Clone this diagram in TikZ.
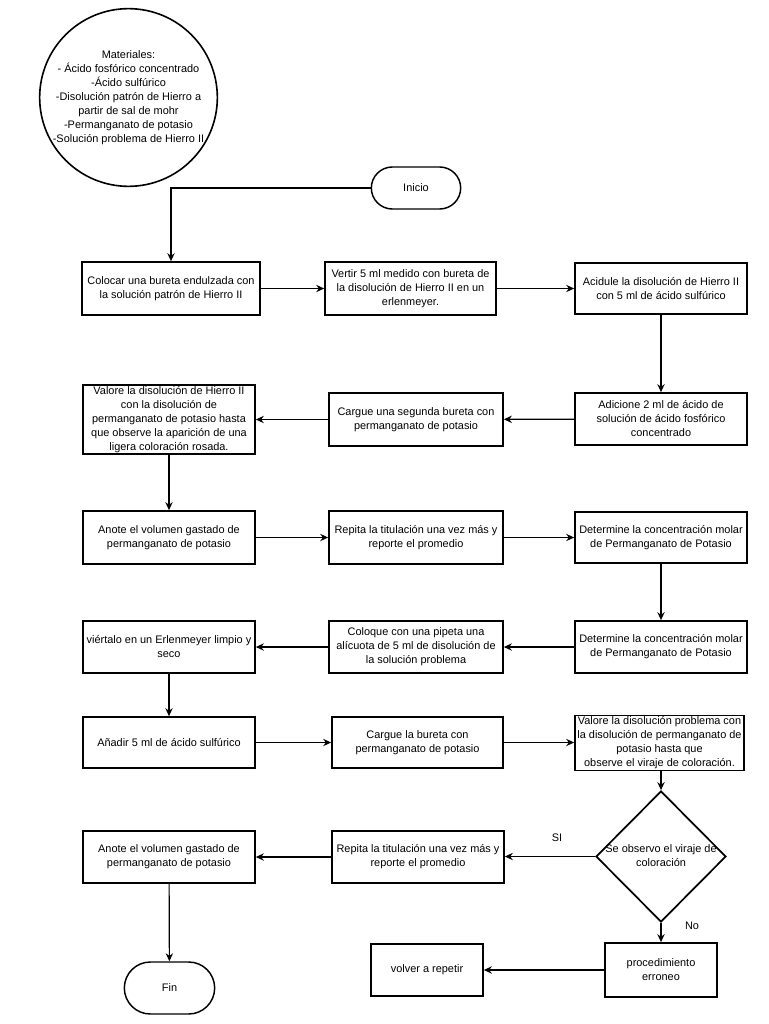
\documentclass[tikz,border=0pt]{standalone}
\usepackage{fontspec}
\setmainfont{Liberation Sans}
\usetikzlibrary{shapes.geometric,shapes.misc,arrows.meta}
\begin{document}
\begin{tikzpicture}[x=0.75pt,y=-0.75pt,
  txt/.style={font=\fontsize{8.2}{10.5}\selectfont, align=center},
  box/.style={txt, draw, line width=1.3pt, inner sep=1pt, minimum width=129pt, minimum height=39pt},
  term/.style={txt, draw, line width=1.1pt, rounded rectangle, inner sep=1pt},
  arr/.style={line width=0.9pt, -{Stealth[length=6pt,width=5.5pt,inset=2pt]}}]
\useasboundingbox (0,0) rectangle (768,1024);
\fill[white] (0,0) rectangle (768,1024);

\node[txt, draw, circle, line width=1.2pt, minimum size=130pt, inner sep=0pt] (mat) at (128.5,97.5)
 {Materiales:\\- Ácido fosfórico concentrado\\-Ácido sulfúrico\\-Disolución patrón de Hierro a\\partir de sal de mohr\\-Permanganato de potasio\\-Solución problema de Hierro II};

\node[term, minimum width=69pt, minimum height=31.5pt] (ini) at (416,188) {Inicio};

\node[box, minimum width=133.5pt, minimum height=39.75pt] (b1) at (171,288.5) {Colocar una bureta endulzada con\\la solución patrón de Hierro II};
\node[box, minimum width=128.25pt, minimum height=39.75pt] (b2) at (410.5,288.5) {Vertir 5 ml medido con bureta de\\la disolución de Hierro II en un\\erlenmeyer.};
\node[box, minimum height=38.25pt] (b3) at (661,288.5) {Acidule la disolución de Hierro II\\con 5 ml de ácido sulfúrico};
\node[box] (b4) at (661,419) {Adicione 2 ml de ácido de\\solución de ácido fosfórico\\concentrado};
\node[box, minimum width=130.5pt, minimum height=39.75pt] (b5) at (416,419.5) {Cargue una segunda bureta con\\permanganato de potasio};
\node[box, minimum height=51.75pt] (b6) at (169,419.5) {Valore la disolución de Hierro II\\con la disolución de\\permanganato de potasio hasta\\que observe la aparición de una\\ligera coloración rosada.};
\node[box, minimum height=39.75pt] (b7) at (169,537.5) {Anote el volumen gastado de\\permanganato de potasio};
\node[box, minimum width=130.5pt, minimum height=39.75pt] (b8) at (416,537.5) {Repita la titulación una vez más y\\reporte el promedio};
\node[box, minimum height=38.25pt] (b9) at (661,537.5) {Determine la concentración molar\\de Permanganato de Potasio};
\node[box] (b10) at (661,647) {Determine la concentración molar\\de Permanganato de Potasio};
\node[box, minimum width=130.5pt] (b11) at (416,647) {Coloque con una pipeta una\\alícuota de 5 ml de disolución de\\la solución problema};
\node[box] (b12) at (169,647) {viértalo en un Erlenmeyer limpio y\\seco};
\node[box, minimum height=38.25pt] (b13) at (169,742.5) {Añadir 5 ml de ácido sulfúrico};
\node[box, minimum width=128.25pt, minimum height=38.25pt] (b14) at (417.5,742.5) {Cargue la bureta con\\permanganato de potasio};
\node[box, minimum width=126.75pt] (b15) at (659.5,743) {Valore la disolución problema con\\la disolución de permanganato de\\potasio hasta que\\observe el viraje de coloración.};

\node[draw, diamond, line width=1.3pt, minimum width=97.5pt, minimum height=98.25pt, inner sep=0pt] (dec) at (661,856.5) {};
\node[txt] (dect) at (661,856) {Se observo el viraje de\\coloración};

\node[box, minimum width=84pt, minimum height=40.5pt] (b16) at (661,970) {procedimiento\\erroneo};
\node[box] (b17) at (418,857) {Repita la titulación una vez más y\\reporte el promedio};
\node[box] (b18) at (169,857) {Anote el volumen gastado de\\permanganato de potasio};
\node[term, minimum width=69.75pt, minimum height=39pt] (fin) at (169.5,988) {Fin};
\node[box, minimum width=84pt, minimum height=39pt] (b19) at (427,970) {volver a repetir};

\node[txt] (si) at (557,838) {SI};
\node[txt] (no) at (692,926) {No};

\draw[arr] (ini.west) -| (b1.north);
\draw[arr] (b1) -- (b2);
\draw[arr] (b2) -- (b3);
\draw[arr] (b3) -- (b4);
\draw[arr] (b4) -- (b5);
\draw[arr] (b5) -- (b6);
\draw[arr] (b6) -- (b7);
\draw[arr] (b7) -- (b8);
\draw[arr] (b8) -- (b9);
\draw[arr] (b9) -- (b10);
\draw[arr] (b10) -- (b11);
\draw[arr] (b11) -- (b12);
\draw[arr] (b12) -- (b13);
\draw[arr] (b13) -- (b14);
\draw[arr] (b14.east) -- (b15.west |- b14.east);
\draw[arr] (b15.south -| dec.north) -- (dec.north);
\draw[arr] (dec.west) -- (b17.east |- dec.west);
\draw[arr] (dec.south) -- (b16.north);
\draw[arr] (b16.west) -- (b19.east |- b16.west);
\draw[arr] (b17) -- (b18);
\draw[arr] (b18) -- (fin);
\end{tikzpicture}
\end{document}
